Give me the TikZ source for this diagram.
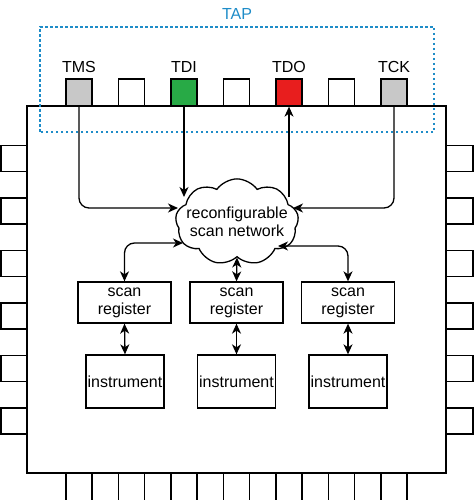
\documentclass[tikz,border=0pt]{standalone}
\usepackage{fontspec}
\setmainfont{Liberation Sans}
\usetikzlibrary{shapes.symbols,arrows.meta}

\definecolor{tapblue}{RGB}{30,140,200}
\definecolor{pingray}{RGB}{200,200,200}
\definecolor{tdigreen}{RGB}{40,170,70}
\definecolor{tdored}{RGB}{232,30,30}

\tikzset{
	padbox/.style={draw, line width=1.3pt, minimum width=26pt, minimum height=27pt, inner sep=0pt},
	regbox/.style={draw, line width=1.3pt, minimum width=93pt, minimum height=41pt, inner sep=0pt, align=center, font=\fontsize{16}{18}\selectfont},
	instbox/.style={draw, line width=1.3pt, minimum width=78pt, minimum height=53pt, inner sep=0pt, font=\fontsize{16}{18}\selectfont},
	sig/.style={line width=1.3pt, rounded corners=10pt, -{Stealth[length=10pt,width=9pt,inset=3pt]}},
	bisig/.style={line width=1.3pt, rounded corners=10pt, {Stealth[length=10pt,width=9pt,inset=3pt]}-{Stealth[length=10pt,width=9pt,inset=3pt]}},
	lbl/.style={font=\fontsize{16}{18}\selectfont}
}

\begin{document}
\begin{tikzpicture}[x=1pt, y=1pt]
			%%%%% START %%%%%
			\useasboundingbox (0, 0) rectangle (474, 500);
			\clip (0, 0) rectangle (474, 500);
			
			% chip
			\draw[line width=1.3pt, fill=white] (27, 27) rectangle (446, 394);
			
			% side pins
			\draw[line width=1.3pt] (1, 328.5) rectangle (27, 354.5);
			\draw[line width=1.3pt] (1, 276) rectangle (27, 302);
			\draw[line width=1.3pt] (1, 223.5) rectangle (27, 249.5);
			\draw[line width=1.3pt] (1, 171) rectangle (27, 197);
			\draw[line width=1.3pt] (1, 118.5) rectangle (27, 144.5);
			\draw[line width=1.3pt] (1, 66) rectangle (27, 92);
			
			\draw[line width=1.3pt] (446, 328.5) rectangle (473, 354.5);
			\draw[line width=1.3pt] (446, 276) rectangle (473, 302);
			\draw[line width=1.3pt] (446, 223.5) rectangle (473, 249.5);
			\draw[line width=1.3pt] (446, 171) rectangle (473, 197);
			\draw[line width=1.3pt] (446, 118.5) rectangle (473, 144.5);
			\draw[line width=1.3pt] (446, 66) rectangle (473, 92);
			
			\draw[line width=1.3pt] (66, 27) rectangle (92, -5);
			\draw[line width=1.3pt] (118.5, 27) rectangle (144.5, -5);
			\draw[line width=1.3pt] (171, 27) rectangle (197, -5);
			\draw[line width=1.3pt] (223.5, 27) rectangle (249.5, -5);
			\draw[line width=1.3pt] (276, 27) rectangle (302, -5);
			\draw[line width=1.3pt] (328.5, 27) rectangle (354.5, -5);
			\draw[line width=1.3pt] (381, 27) rectangle (407, -5);
			
			% top pins
			\node[padbox, fill=pingray] (tms) at (79, 407.5) {};
			\node[padbox] (padA) at (131.5, 407.5) {};
			\node[padbox, fill=tdigreen] (tdi) at (184, 407.5) {};
			\node[padbox] (padB) at (236.5, 407.5) {};
			\node[padbox, fill=tdored] (tdo) at (289, 407.5) {};
			\node[padbox] (padC) at (341.5, 407.5) {};
			\node[padbox, fill=pingray] (tck) at (394, 407.5) {};
			
			\node[lbl] (tmsLabel) at (79, 433) {TMS};
			\node[lbl] (tdiLabel) at (184, 433) {TDI};
			\node[lbl] (tdoLabel) at (289, 433) {TDO};
			\node[lbl] (tckLabel) at (394, 433) {TCK};
			
			% TAP
			\draw[tapblue, line width=1.3pt, dash pattern=on 2.5pt off 2.5pt] (40, 368) rectangle (434, 473);
			\node[lbl, text=tapblue] (tap) at (237, 486) {TAP};
			
			% scan network
			\node[cloud, draw, line width=1.3pt, cloud puffs=9, cloud puff arc=110, aspect=1.7, inner xsep=-9pt, inner ysep=-4pt, minimum width=120pt, minimum height=72pt, align=center, lbl] (net) at (237, 278) {reconfigurable\\scan network};
			\coordinate (netTMS) at (178, 292);
			\coordinate (netTDI) at (184, 303);
			\coordinate (netTDO) at (289, 303);
			\coordinate (netTCK) at (293, 292);
			\coordinate (netL) at (183, 257);
			\coordinate (netR) at (278, 254);
			
			\node[regbox] (reg1) at (124.5, 197.5) {scan\\register};
			\node[regbox] (reg2) at (236.5, 197.5) {scan\\register};
			\node[regbox] (reg3) at (348, 197.5) {scan\\register};
			
			\node[instbox] (inst1) at (125, 118.5) {instrument};
			\node[instbox] (inst2) at (236.5, 118.5) {instrument};
			\node[instbox] (inst3) at (348, 118.5) {instrument};
			
			% signals
			\draw[sig] (tms.south) |- (netTMS);
			\draw[sig] (tdi.south) -- (netTDI);
			\draw[sig] (netTDO) -- (tdo.south);
			\draw[sig] (tck.south) |- (netTCK);
			
			\draw[bisig] (netL) -| (reg1.north);
			\draw[bisig] (net.south) -- (reg2.north);
			\draw[bisig] (netR) -| (reg3.north);
			
			\draw[bisig] (reg1.south) -- (inst1.north);
			\draw[bisig] (reg2.south) -- (inst2.north);
			\draw[bisig] (reg3.south) -- (inst3.north);
			
			%%%%% END %%%%%
\end{tikzpicture}
\end{document}
